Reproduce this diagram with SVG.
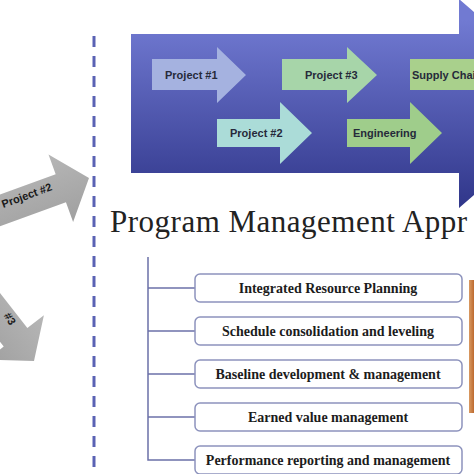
<svg xmlns="http://www.w3.org/2000/svg" width="474" height="474" viewBox="0 0 474 474">
<defs>
<linearGradient id="gBlue" gradientUnits="userSpaceOnUse" x1="0" y1="20" x2="0" y2="210">
<stop offset="0" stop-color="#717ad2"/>
<stop offset="1" stop-color="#2f3589"/>
</linearGradient>
<linearGradient id="gGray" x1="0" y1="0" x2="0" y2="1">
<stop offset="0" stop-color="#b6b6b6"/>
<stop offset="1" stop-color="#a0a0a0"/>
</linearGradient>
<linearGradient id="gOrange" x1="0" y1="0" x2="1" y2="0">
<stop offset="0" stop-color="#d99a62"/>
<stop offset="1" stop-color="#bd6a30"/>
</linearGradient>
<path id="grayArrow" d="M-170,-15 L-30,-15 L-30,-36 L0,0 L-30,36 L-30,15 L-170,15 Z"/>
</defs>
<style>
.lbl{font-family:"Liberation Sans",Arial,sans-serif;font-size:11px;font-weight:bold;fill:#262a3a}
.box{fill:#ffffff;stroke:#8d93bd;stroke-width:1.5}
.btxt{font-family:"Liberation Serif","Times New Roman",serif;font-size:14px;font-weight:bold;fill:#1c1c1c;text-anchor:middle}
.conn{fill:none;stroke:#6b70a8;stroke-width:1.5}
.dash{stroke:#5a62b4;stroke-width:3;stroke-dasharray:11 9}
</style>

<g id="divider">
<line class="dash" x1="94" y1="36" x2="94" y2="474"/>
</g>

<g id="gray-project2">
<use href="#grayArrow" transform="translate(89,178) rotate(-20)" fill="url(#gGray)"/>
<text class="lbl" transform="translate(28,199) rotate(-20)" text-anchor="middle" style="fill:#1a1a1a">Project #2</text>
</g>

<g id="gray-project3">
<use href="#grayArrow" transform="translate(34,361) rotate(52)" fill="url(#gGray)"/>
<text class="lbl" transform="translate(10,326) rotate(58)" text-anchor="end" style="fill:#1a1a1a">#3</text>
</g>

<g id="program-arrow">
<path d="M131,34 L459,34 L459,-1 L580,103.5 L459,208 L459,173 L131,173 Z" fill="url(#gBlue)"/>
</g>

<g id="project1">
<path d="M152,59 L217,59 L217,47 L246,75 L217,103 L217,90 L152,90 Z" fill="#a5b2e0"/>
<text class="lbl" x="165" y="79">Project #1</text>
</g>
<g id="project3">
<path d="M282,59 L347,59 L347,47 L377,75 L347,103 L347,90 L282,90 Z" fill="#a7d5a9"/>
<text class="lbl" x="305" y="79">Project #3</text>
</g>
<g id="supply-chain">
<path d="M410,59 L480,59 L480,90 L410,90 Z" fill="#a9d08c"/>
<text class="lbl" x="412" y="79">Supply Chain</text>
</g>
<g id="project2">
<path d="M217,119 L280,119 L280,102 L312,133 L280,164 L280,147 L217,147 Z" fill="#abdcd8"/>
<text class="lbl" x="230" y="137">Project #2</text>
</g>
<g id="engineering">
<path d="M347,119 L410,119 L410,102 L442,133 L410,164 L410,147 L347,147 Z" fill="#9fcd8b"/>
<text class="lbl" x="353" y="137">Engineering</text>
</g>

<g id="title">
<text x="110" y="232" font-family="'Liberation Serif','Times New Roman',serif" font-size="31" letter-spacing="0.5" fill="#222222">Program Management Appr</text>
</g>

<g id="connectors">
<path class="conn" d="M148,257 L148,460 L195,460"/>
<line class="conn" x1="148" y1="288" x2="195" y2="288"/>
<line class="conn" x1="148" y1="331" x2="195" y2="331"/>
<line class="conn" x1="148" y1="374" x2="195" y2="374"/>
<line class="conn" x1="148" y1="417" x2="195" y2="417"/>
</g>

<g id="item1">
<rect class="box" x="195" y="274" width="267" height="28" rx="5"/>
<text class="btxt" x="328" y="293">Integrated Resource Planning</text>
</g>
<g id="item2">
<rect class="box" x="195" y="317" width="267" height="28" rx="5"/>
<text class="btxt" x="328" y="336">Schedule consolidation and leveling</text>
</g>
<g id="item3">
<rect class="box" x="195" y="360" width="267" height="28" rx="5"/>
<text class="btxt" x="328" y="379">Baseline development &amp; management</text>
</g>
<g id="item4">
<rect class="box" x="195" y="403" width="267" height="28" rx="5"/>
<text class="btxt" x="328" y="422">Earned value management</text>
</g>
<g id="item5">
<rect class="box" x="195" y="446" width="267" height="28" rx="5"/>
<text class="btxt" x="328" y="465">Performance reporting and management</text>
</g>

<g id="orange-bar">
<rect x="469" y="280" width="5" height="133" fill="url(#gOrange)"/>
</g>
</svg>
